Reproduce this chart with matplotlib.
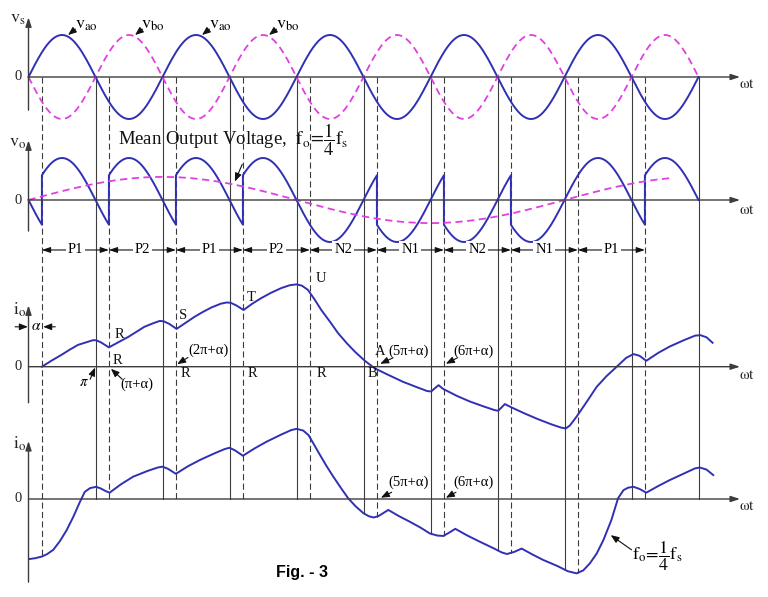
import numpy as np
import matplotlib
matplotlib.use("Agg")
import matplotlib.pyplot as plt

plt.rcParams["font.family"] = ["Liberation Serif", "DejaVu Serif"]
plt.rcParams["mathtext.fontset"] = "stix"

# ---- values (x in units of pi rad) ----
alpha = 0.2            # firing delay as a fraction of pi
half_cycles = 10       # input half cycles drawn
vs_peak = 1.0
mean_peak = 0.55       # mean output voltage, fo = fs/4
mean_end = 9.6
groups = ["P1", "P2", "P1", "P2", "N2", "N1", "N2", "N1", "P1"]

# load current, RL load (upper io plot)
io1_t = [0.20, 0.35, 0.49, 0.62, 0.74, 0.88, 0.96, 1.01, 1.08, 1.20,
         1.35, 1.49, 1.62, 1.73, 1.87, 1.96, 2.02, 2.10, 2.21,
         2.35, 2.48, 2.61, 2.73, 2.87, 2.96, 3.02, 3.10, 3.21,
         3.34, 3.47, 3.62, 3.77, 3.90, 4.00, 4.08, 4.17, 4.27, 4.37,
         4.50, 4.62, 4.75, 4.87, 5.02, 5.17, 5.35, 5.59, 5.80, 5.95,
         6.01, 6.06, 6.12, 6.19, 6.40, 6.59, 6.80, 6.95, 7.01, 7.06,
         7.11, 7.21, 7.40, 7.59, 7.80, 7.95, 8.02, 8.08, 8.18, 8.33,
         8.48, 8.63, 8.78, 8.92, 9.03, 9.12, 9.22, 9.40, 9.57, 9.78,
         9.95, 10.03, 10.12, 10.21]
io1_v = [0.00, 0.15, 0.28, 0.41, 0.52, 0.59, 0.63, 0.63, 0.58, 0.46,
         0.59, 0.71, 0.84, 0.95, 1.04, 1.09, 1.08, 1.02, 0.90,
         1.05, 1.19, 1.31, 1.41, 1.50, 1.53, 1.52, 1.46, 1.35,
         1.50, 1.63, 1.76, 1.87, 1.94, 1.96, 1.93, 1.83, 1.60, 1.35,
         1.07, 0.80, 0.56, 0.36, 0.14, -0.04, -0.18, -0.36, -0.49, -0.58,
         -0.59, -0.52, -0.44, -0.53, -0.70, -0.83, -0.95, -1.03, -1.05, -0.97,
         -0.89, -0.97, -1.11, -1.24, -1.37, -1.45, -1.47, -1.40, -1.19, -0.84,
         -0.48, -0.22, 0.00, 0.21, 0.30, 0.26, 0.14, 0.33, 0.48, 0.63,
         0.74, 0.75, 0.70, 0.57]

# load current starting from a negative initial value (lower io plot)
io2_t = [0.01, 0.10, 0.20, 0.28, 0.37, 0.47, 0.57, 0.67, 0.77, 0.84,
         0.92, 1.01, 1.08, 1.15, 1.21, 1.38, 1.56, 1.78, 1.93, 2.00,
         2.08, 2.20, 2.38, 2.56, 2.78, 2.93, 3.00, 3.08, 3.20, 3.38,
         3.56, 3.78, 3.92, 4.00, 4.10, 4.18, 4.26, 4.35, 4.45, 4.55,
         4.66, 4.77, 4.88, 5.00, 5.08, 5.15, 5.22, 5.30, 5.37, 5.52,
         5.69, 5.85, 5.99, 6.10, 6.19, 6.28, 6.37, 6.55, 6.74, 6.95,
         7.06, 7.14, 7.25, 7.36, 7.52, 7.68, 7.90, 8.05, 8.18, 8.28,
         8.38, 8.48, 8.58, 8.70, 8.80, 8.88, 8.95, 9.03, 9.12, 9.22,
         9.40, 9.57, 9.80, 9.95, 10.02, 10.12, 10.22]
io2_v = [-1.43, -1.41, -1.37, -1.31, -1.21, -1.00, -0.74, -0.42, -0.06, 0.17,
         0.26, 0.29, 0.25, 0.19, 0.15, 0.35, 0.53, 0.67, 0.75, 0.77,
         0.72, 0.60, 0.78, 0.93, 1.09, 1.19, 1.22, 1.16, 1.03, 1.21,
         1.37, 1.54, 1.64, 1.67, 1.63, 1.52, 1.30, 1.05, 0.78, 0.53,
         0.27, 0.02, -0.17, -0.34, -0.41, -0.44, -0.41, -0.33, -0.26, -0.40,
         -0.54, -0.68, -0.82, -0.87, -0.88, -0.80, -0.71, -0.87, -1.02, -1.18,
         -1.27, -1.31, -1.26, -1.18, -1.32, -1.45, -1.60, -1.72, -1.77, -1.70,
         -1.53, -1.30, -0.98, -0.50, 0.02, 0.21, 0.27, 0.29, 0.24, 0.15,
         0.31, 0.45, 0.62, 0.73, 0.75, 0.70, 0.57]

BLUE = "#3030b4"
MAGENTA = "#e040e0"
INK = "#3c3c3c"
DASH = (0, (5.5, 3))
FO_TEXT = r"$\mathrm{f_o}\!=\!\dfrac{1}{4}\mathrm{f_s}$"

# ---- layout (pixels) ----
W, H = 768, 597
X0 = 28.5          # pixel of wt = 0
PX_PI = 67.0       # pixels per pi
PX_UNIT = 42.0     # pixels per unit of amplitude
XLIM = (-X0 / PX_PI, (W - X0) / PX_PI)
X_END = (740 - X0) / PX_PI

fig = plt.figure(figsize=(W / 100, H / 100), dpi=100)

# overlay for the vertical guide lines (y in pixels)
ax_v = fig.add_axes([0, 0, 1, 1])
ax_v.set_xlim(*XLIM)
ax_v.set_ylim(H, 0)
ax_v.axis("off")


def panel(top, bottom, zero):
    ax = fig.add_axes([0, 1 - bottom / H, 1, (bottom - top) / H])
    ax.set_xlim(*XLIM)
    ax.set_ylim(-(bottom - zero) / PX_UNIT, (zero - top) / PX_UNIT)
    ax.axis("off")
    return ax


def axes_arrows(ax, ybot, ytop, ylabel, ylab_y, wt_y):
    arrow = dict(arrowstyle="-|>,head_length=0.55,head_width=0.18",
                 color=INK, lw=1.0, shrinkA=0, shrinkB=0)
    ax.annotate("", xy=(X_END, 0), xytext=(0, 0), arrowprops=arrow)
    ax.annotate("", xy=(0, ytop), xytext=(0, ybot), arrowprops=arrow)
    ax.text(-0.1, 0, "0", ha="right", va="center", fontsize=10.5, color="#222")
    ax.text(-0.04, ylab_y, ylabel, ha="right", va="center", fontsize=13, color="#222")
    ax.text(X_END - 0.02, wt_y, r"$\mathrm{\omega t}$", ha="left", va="center",
            fontsize=11, color="#222")


p_top = [(0, 125, 77), (125, 262, 200), (262, 405, 366.7), (405, 597, 499)]
ax1, ax2, ax3, ax4 = [panel(*p) for p in p_top]

# vertical guide lines
zero4 = p_top[3][2]
for k in range(1, half_cycles + 1):
    low = min(0.0, np.interp(k, io2_t, io2_v))
    ax_v.plot([k, k], [p_top[0][2], zero4 - PX_UNIT * low], color=INK, lw=0.8)
for k in range(half_cycles):
    t = k + alpha
    low = min(0.0, np.interp(t, io2_t, io2_v))
    ax_v.plot([t, t], [p_top[0][2], zero4 - PX_UNIT * low], color=INK, lw=0.8,
              linestyle=DASH)

small_arrow = dict(arrowstyle="-|>,head_length=0.5,head_width=0.2",
                   color="#111", lw=0.8, shrinkA=0, shrinkB=0)

# ---- panel 1: supply voltages ----
th = np.linspace(0, half_cycles, 800)
ax1.plot(th, vs_peak * np.sin(np.pi * th), color=BLUE, lw=1.4, clip_on=False)
ax1.plot(th, -vs_peak * np.sin(np.pi * th), color=MAGENTA, lw=1.3,
         linestyle=(0, (4, 2.5)), clip_on=False)
axes_arrows(ax1, -0.79, 1.42, r"$\mathrm{v_s}$", 1.4, -0.19)
for txt, tx, tip in [(r"$\mathrm{v_{ao}}$", 0.86, 0.59), (r"$\mathrm{v_{bo}}$", 1.85, 1.59),
                     (r"$\mathrm{v_{ao}}$", 2.86, 2.59), (r"$\mathrm{v_{bo}}$", 3.87, 3.59)]:
    ax1.text(tx, 1.24, txt, ha="center", va="center", fontsize=13)
    ax1.annotate("", xy=(tip, 1.0), xytext=(tip + 0.11, 1.14), arrowprops=small_arrow)

# ---- panel 2: output voltage ----
seq = ["P"] + groups + ["P"]
signs = [1 if g[0] == "P" else -1 for g in seq]
bounds = [0.0] + [k + alpha for k in range(half_cycles)] + [float(half_cycles)]
vo_t, vo_v = [], []
for i, s in enumerate(signs):
    t = np.linspace(bounds[i], bounds[i + 1], 80)
    vo_t.append(t)
    vo_v.append(s * vs_peak * np.sin(np.pi * (t - (i - 1))))
ax2.plot(np.concatenate(vo_t), np.concatenate(vo_v), color=BLUE, lw=1.4,
         clip_on=False)
tm = np.linspace(0, mean_end, 400)
ax2.plot(tm, mean_peak * np.sin(np.pi * tm / 4), color=MAGENTA, lw=1.3,
         linestyle=(0, (4, 2.5)), clip_on=False)
axes_arrows(ax2, -0.74, 1.42, r"$\mathrm{v_o}$", 1.36, -0.24)
ax2.text(1.34, 1.45, "Mean Output Voltage,  " + FO_TEXT, ha="left", va="center",
         fontsize=13.5, color="#111")
ax2.annotate("", xy=(3.08, 0.44), xytext=(3.19, 0.85), arrowprops=small_arrow)
row_y = -1.19
for j, g in enumerate(groups):
    a, b = j + alpha, j + 1 + alpha
    ax2.annotate("", xy=(b, row_y), xytext=(a, row_y),
                 arrowprops=dict(arrowstyle="<|-|>,head_length=0.5,head_width=0.17",
                                 color="#111", lw=0.8, shrinkA=0, shrinkB=0))
    ax2.text((a + b) / 2, row_y, g, ha="center", va="center", fontsize=10.5,
             bbox=dict(facecolor="white", edgecolor="none", pad=1.5))

# ---- panel 3: load current ----
ax3.plot(io1_t, io1_v, color=BLUE, lw=1.4, clip_on=False)
axes_arrows(ax3, -0.86, 1.46, r"$\mathrm{i_o}$", 1.35, -0.22)
lab = dict(fontsize=10.5, ha="left", va="center", color="#111")
for txt, x, y in [("R", 1.28, 0.77), ("R", 1.26, 0.14), ("S", 2.24, 1.21),
                  ("T", 3.26, 1.64), ("U", 4.29, 2.10), ("R", 2.27, -0.17),
                  ("R", 3.27, -0.17), ("R", 4.30, -0.17), ("A", 5.17, 0.36),
                  ("B", 5.06, -0.17)]:
    ax3.text(x, y, txt, **lab)
ax3.text(0.11, 0.95, r"$\alpha$", ha="center", va="center", fontsize=11)
ax3.annotate("", xy=(-0.01, 0.95), xytext=(-0.2, 0.95), arrowprops=small_arrow)
ax3.annotate("", xy=(0.22, 0.95), xytext=(0.4, 0.95), arrowprops=small_arrow)
for txt, tx, ty, tail, tip in [
        (r"$\pi$", 0.82, -0.37, (0.92, -0.30), (0.995, -0.02)),
        ("(π+α)", 1.62, -0.42, (1.40, -0.30), (1.23, -0.05)),
        ("(2π+α)", 2.68, 0.38, (2.38, 0.22), (2.22, 0.06)),
        ("(5π+α)", 5.68, 0.37, (5.44, 0.21), (5.25, 0.07)),
        ("(6π+α)", 6.64, 0.37, (6.40, 0.21), (6.23, 0.07))]:
    ax3.text(tx, ty, txt, ha="center", va="center", fontsize=10.5)
    ax3.annotate("", xy=tip, xytext=tail, arrowprops=small_arrow)

# ---- panel 4: load current, negative start ----
ax4.plot(io2_t, io2_v, color=BLUE, lw=1.4, clip_on=False)
axes_arrows(ax4, -1.98, 1.38, r"$\mathrm{i_o}$", 1.32, -0.19)
for txt, tx, ty, tail, tip in [
        ("(5π+α)", 5.67, 0.39, (5.42, 0.16), (5.26, 0.03)),
        ("(6π+α)", 6.64, 0.39, (6.38, 0.16), (6.23, 0.03))]:
    ax4.text(tx, ty, txt, ha="center", va="center", fontsize=10.5)
    ax4.annotate("", xy=tip, xytext=tail, arrowprops=small_arrow)
ax4.text(9.39, -1.37, FO_TEXT, ha="center", va="center", fontsize=13)
ax4.annotate("", xy=(8.69, -0.86), xytext=(9.0, -1.21), arrowprops=small_arrow)
ax4.text(4.08, -1.76, "Fig. - 3", ha="center", va="center", fontsize=11.5,
         fontweight="bold", family="Liberation Sans")

fig.savefig("out.png", dpi=100)
